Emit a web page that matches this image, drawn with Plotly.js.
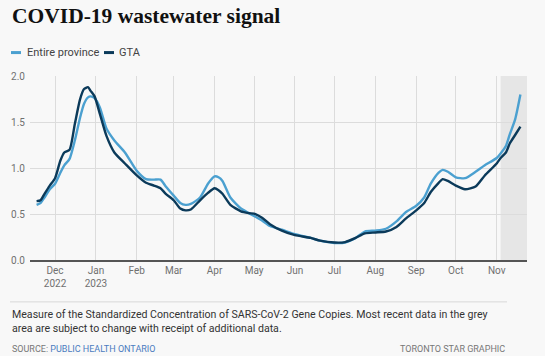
<!DOCTYPE html>
<html>
<head>
<meta charset="utf-8">
<script src="https://cdn.plot.ly/plotly-3.0.1.min.js"></script>
<style>
html,body{margin:0;padding:0;background:#f8f8f8;}
#chart{width:545px;height:356px;}
</style>
</head>
<body>
<div id="chart"></div>
<script>
var dates = ["2022-11-17","2022-11-20","2022-11-23","2022-11-27","2022-12-01","2022-12-05","2022-12-08","2022-12-12","2022-12-16","2022-12-20","2022-12-23","2022-12-26","2022-12-28","2022-12-31","2023-01-04","2023-01-09","2023-01-15","2023-01-23","2023-02-01","2023-02-08","2023-02-14","2023-02-19","2023-02-23","2023-03-01","2023-03-06","2023-03-10","2023-03-14","2023-03-21","2023-03-27","2023-04-01","2023-04-04","2023-04-07","2023-04-13","2023-04-21","2023-04-27","2023-05-02","2023-05-07","2023-05-13","2023-05-22","2023-06-01","2023-06-13","2023-06-20","2023-07-01","2023-07-09","2023-07-17","2023-07-24","2023-08-01","2023-08-09","2023-08-17","2023-08-24","2023-09-01","2023-09-07","2023-09-12","2023-09-18","2023-09-21","2023-09-25","2023-10-01","2023-10-08","2023-10-16","2023-10-23","2023-11-01","2023-11-04","2023-11-08","2023-11-11","2023-11-15","2023-11-19"];
var province = [0.60,0.62,0.68,0.77,0.83,0.95,1.03,1.10,1.30,1.55,1.70,1.77,1.78,1.76,1.66,1.43,1.30,1.17,0.97,0.88,0.875,0.875,0.80,0.70,0.62,0.60,0.61,0.68,0.83,0.91,0.90,0.86,0.68,0.56,0.51,0.47,0.43,0.37,0.33,0.28,0.24,0.21,0.185,0.19,0.24,0.31,0.32,0.34,0.42,0.52,0.59,0.68,0.83,0.95,0.98,0.96,0.90,0.89,0.96,1.03,1.11,1.16,1.24,1.37,1.53,1.80];
var gta = [0.64,0.65,0.72,0.81,0.89,1.08,1.17,1.20,1.48,1.75,1.86,1.88,1.84,1.78,1.59,1.35,1.17,1.05,0.92,0.84,0.81,0.78,0.72,0.65,0.56,0.54,0.55,0.65,0.73,0.78,0.76,0.72,0.60,0.53,0.51,0.50,0.46,0.39,0.32,0.27,0.24,0.21,0.19,0.195,0.24,0.29,0.30,0.31,0.36,0.45,0.54,0.62,0.74,0.84,0.88,0.86,0.81,0.77,0.80,0.92,1.05,1.11,1.17,1.27,1.36,1.45];
var tickVals = ["2022-12-01","2023-01-01","2023-02-01","2023-03-01","2023-04-01","2023-05-01","2023-06-01","2023-07-01","2023-08-01","2023-09-01","2023-10-01","2023-11-01"];
var tickText = ["Dec<br>2022","Jan<br>2023","Feb","Mar","Apr","May","Jun","Jul","Aug","Sep","Oct","Nov"];
var yVals = [0,0.5,1,1.5,2];
var yText = ["0.0","0.5","1.0","1.5","2.0"];
var seriesNames = ["Entire province","GTA"];
var colors = ["#4ba0d0","#0b3a5a"];
var greyStart = "2023-11-04";

var traces = [
  {x:dates, y:province, type:"scatter", mode:"lines", name:seriesNames[0], line:{color:colors[0], width:2.4, shape:"spline", smoothing:0.6}, hoverinfo:"skip"},
  {x:dates, y:gta, type:"scatter", mode:"lines", name:seriesNames[1], line:{color:colors[1], width:2.4, shape:"spline", smoothing:0.6}, hoverinfo:"skip"}
];

var PL = 30, PR = 527, PT = 75.5, PB = 260;
var W = PR-PL, H = PB-PT;
function px(x){return (x-PL)/W;}
function py(y){return (PB-y)/H;}

var layout = {
  width:545, height:356,
  paper_bgcolor:"#f8f8f8", plot_bgcolor:"#f8f8f8",
  margin:{l:PL, r:545-PR, t:PT, b:356-PB, pad:0},
  showlegend:false,
  font:{family:"Roboto, 'Noto Sans', sans-serif", color:"#666"},
  xaxis:{type:"date", range:["2022-11-12","2023-11-24"], tickvals:tickVals, ticktext:tickText,
         showgrid:true, gridcolor:"#dcdcdc", gridwidth:1, ticks:"", showline:true, linecolor:"#555", linewidth:1.5,
         tickfont:{size:10, color:"#707070"}, zeroline:false, fixedrange:true},
  yaxis:{range:[0,2.002], tickvals:yVals, ticktext:yText, showgrid:true, gridcolor:"#dcdcdc", gridwidth:1,
         ticks:"", showline:false, zeroline:false, tickfont:{size:10, color:"#707070"}, ticklabelstandoff:4, fixedrange:true},
  shapes:[
    {type:"rect", xref:"x", yref:"paper", x0:greyStart, x1:"2023-11-24", y0:0, y1:1, fillcolor:"#e6e6e6", line:{width:0}, layer:"below"},
    {type:"line", xref:"paper", yref:"paper", x0:px(11), x1:px(21), y0:py(52), y1:py(52), line:{color:colors[0], width:3}},
    {type:"line", xref:"paper", yref:"paper", x0:px(104), x1:px(114), y0:py(52), y1:py(52), line:{color:colors[1], width:3}},
    {type:"line", xref:"paper", yref:"paper", x0:px(10), x1:px(507), y0:py(302), y1:py(302), line:{color:"#d8d8d8", width:1}}
  ],
  annotations:[
    {xref:"paper", yref:"paper", x:px(10), y:py(15), xanchor:"left", yanchor:"middle", showarrow:false,
     text:"<b>COVID-19 wastewater signal</b>", font:{family:"'Liberation Serif', serif", size:21.5, color:"#111"}},
    {xref:"paper", yref:"paper", x:px(25), y:py(52), xanchor:"left", yanchor:"middle", showarrow:false,
     text:seriesNames[0], font:{size:11, color:"#444"}},
    {xref:"paper", yref:"paper", x:px(117), y:py(52), xanchor:"left", yanchor:"middle", showarrow:false,
     text:seriesNames[1], font:{size:11, color:"#444"}},
    {xref:"paper", yref:"paper", x:px(10), y:py(322), xanchor:"left", yanchor:"middle", showarrow:false, align:"left",
     text:"Measure of the Standardized Concentration of SARS-CoV-2 Gene Copies. Most recent data in the grey<br>area are subject to change with receipt of additional data.",
     font:{size:10.6, color:"#333"}},
    {xref:"paper", yref:"paper", x:px(10), y:py(349), xanchor:"left", yanchor:"middle", showarrow:false,
     text:"SOURCE: <span style='color:#4a7cc0'>PUBLIC HEALTH ONTARIO</span>", font:{size:9, color:"#777"}},
    {xref:"paper", yref:"paper", x:px(507), y:py(349), xanchor:"right", yanchor:"middle", showarrow:false,
     text:"TORONTO STAR GRAPHIC", font:{size:9, color:"#777"}}
  ]
};
Plotly.newPlot("chart", traces, layout, {staticPlot:true, displayModeBar:false});
</script>
</body>
</html>
